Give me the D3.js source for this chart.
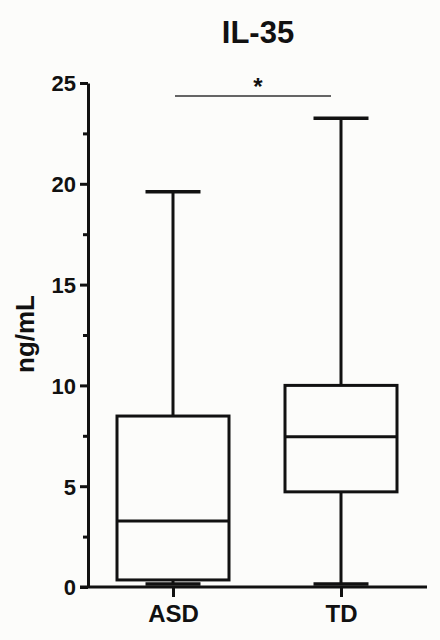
<!DOCTYPE html>
<html>
<head>
<meta charset="utf-8">
<script src="https://cdn.jsdelivr.net/npm/d3@7"></script>
<style>
  html, body { margin: 0; padding: 0; background: #fcfcfa; }
  svg { display: block; }
  text { font-family: "Liberation Sans", Arial, sans-serif; font-weight: bold; fill: #111; }
</style>
</head>
<body>
<svg id="chart" width="440" height="640"></svg>
<script>
// Box plot — IL-35, ASD vs TD
const groups   = ['ASD', 'TD'];
const mins     = [0.15, 0.15];
const q1s      = [0.35, 4.72];
const medians  = [3.28, 7.45];
const q3s      = [8.48, 10.0];
const maxs     = [19.6, 23.25];
const majorTicks = [0, 5, 10, 15, 20, 25];
const minorTicks = [2.5, 7.5, 12.5, 17.5, 22.5];
const sigLevel = 24.35;

(function() {
    const svg = d3.select('#chart');
    const ink = '#111';

    const y = d3.scaleLinear().domain([0, 25]).range([587, 83]);
    const x = d3.scalePoint().domain(groups).range([173, 341]);
    const axisX = 88;
    const boxW = 112, capW = 55;

    // Title
    svg.append('text')
        .attr('x', 258).attr('y', 43)
        .attr('text-anchor', 'middle')
        .attr('font-size', '31px')
        .text('IL-35');

    // Y axis, major then minor ticks
    const yAxis = svg.append('g')
        .attr('transform', 'translate(' + axisX + ',0)')
        .call(d3.axisLeft(y).tickValues(majorTicks).tickSize(8).tickPadding(4).tickSizeOuter(0));
    yAxis.select('.domain').attr('stroke', ink).attr('stroke-width', 3);
    yAxis.selectAll('.tick line').attr('stroke', ink).attr('stroke-width', 3);
    yAxis.selectAll('.tick text')
        .attr('font-size', '22px')
        .attr('font-family', '"Liberation Sans", Arial, sans-serif')
        .attr('font-weight', 'bold')
        .attr('fill', ink)
        .attr('dy', '0.36em');

    const yMinor = svg.append('g')
        .attr('transform', 'translate(' + axisX + ',0)')
        .call(d3.axisLeft(y).tickValues(minorTicks).tickSize(5).tickFormat(''));
    yMinor.select('.domain').remove();
    yMinor.selectAll('.tick line').attr('stroke', ink).attr('stroke-width', 3);

    // X axis
    const xAxis = svg.append('g')
        .attr('transform', 'translate(0,' + y(0) + ')')
        .call(d3.axisBottom(x).tickSize(10).tickPadding(8).tickSizeOuter(0));
    xAxis.select('.domain')
        .attr('d', 'M80,0H427')
        .attr('stroke', ink).attr('stroke-width', 3);
    xAxis.selectAll('.tick line').attr('stroke', ink).attr('stroke-width', 3);
    xAxis.selectAll('.tick text')
        .attr('font-size', '24px')
        .attr('font-family', '"Liberation Sans", Arial, sans-serif')
        .attr('font-weight', 'bold')
        .attr('fill', ink)
        .attr('dy', '0.7em');

    // Y label
    svg.append('text')
        .attr('transform', 'translate(34,334) rotate(-90)')
        .attr('text-anchor', 'middle')
        .attr('font-size', '26px')
        .text('ng/mL');

    // Boxes
    const g = svg.append('g')
        .attr('stroke', ink)
        .attr('stroke-width', 3)
        .attr('fill', 'none');

    groups.forEach(function(name, i) {
        const cx = x(name);
        // whiskers
        g.append('line')
            .attr('x1', cx).attr('x2', cx)
            .attr('y1', y(maxs[i])).attr('y2', y(q3s[i]));
        g.append('line')
            .attr('x1', cx).attr('x2', cx)
            .attr('y1', y(q1s[i])).attr('y2', y(mins[i]));
        // caps
        [maxs[i], mins[i]].forEach(function(v) {
            g.append('line')
                .attr('x1', cx - capW / 2).attr('x2', cx + capW / 2)
                .attr('y1', y(v)).attr('y2', y(v))
                .attr('stroke-width', 3.5);
        });
        // box
        g.append('rect')
            .attr('x', cx - boxW / 2).attr('width', boxW)
            .attr('y', y(q3s[i])).attr('height', y(q1s[i]) - y(q3s[i]))
            .attr('fill', 'none');
        // median
        g.append('line')
            .attr('x1', cx - boxW / 2).attr('x2', cx + boxW / 2)
            .attr('y1', y(medians[i])).attr('y2', y(medians[i]));
    });

    // Significance bar
    svg.append('line')
        .attr('x1', x('ASD') + 2).attr('x2', x('TD') - 10)
        .attr('y1', y(sigLevel)).attr('y2', y(sigLevel))
        .attr('stroke', '#333').attr('stroke-width', 1.5);
    svg.append('text')
        .attr('x', 258).attr('y', y(sigLevel) - 1)
        .attr('text-anchor', 'middle')
        .attr('font-size', '24px')
        .attr('font-weight', 'normal')
        .text('*');
})();
</script>
</body>
</html>
